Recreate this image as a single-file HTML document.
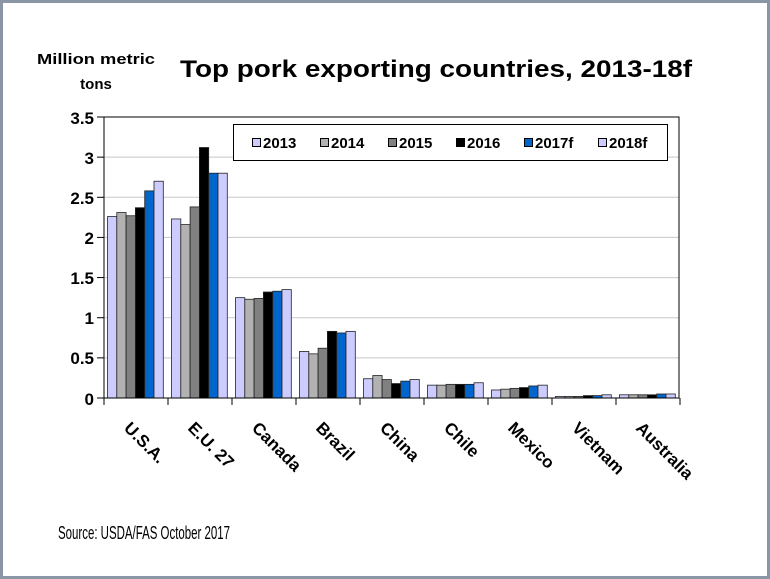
<!DOCTYPE html>
<html><head><meta charset="utf-8"><style>
html,body{margin:0;padding:0;background:#fff}
svg{display:block}
text{font-family:"Liberation Sans",sans-serif}
</style></head><body>
<svg id="s" width="770" height="579" xmlns="http://www.w3.org/2000/svg">
<rect x="0" y="0" width="770" height="579" fill="#fff"/>
<rect x="1.5" y="1.5" width="767" height="576" fill="none" stroke="#8a96a6" stroke-width="3"/>
<text x="96" y="64" font-size="15" font-weight="bold" text-anchor="middle" textLength="118" lengthAdjust="spacingAndGlyphs">Million metric</text>
<text x="96" y="89" font-size="15" font-weight="bold" text-anchor="middle">tons</text>
<text x="180" y="77" font-size="24" font-weight="bold" textLength="512" lengthAdjust="spacingAndGlyphs">Top pork exporting  countries, 2013-18f</text>
<g id="grid"></g>
<g id="bars"></g>
<rect x="104" y="117" width="575" height="281" fill="none" stroke="#000" stroke-width="1"/>
<g font-size="17" font-weight="bold" text-anchor="end">
<text x="94" y="124">3.5</text><text x="94" y="164">3</text><text x="94" y="204">2.5</text><text x="94" y="244">2</text>
<text x="94" y="284">1.5</text><text x="94" y="324">1</text><text x="94" y="364">0.5</text><text x="94" y="405">0</text>
</g>
<g font-size="17" font-weight="bold">
<text transform="translate(123,429) rotate(45)">U.S.A.</text>
<text transform="translate(187,429) rotate(45)">E.U. 27</text>
<text transform="translate(251,429) rotate(45)">Canada</text>
<text transform="translate(315,429) rotate(45)">Brazil</text>
<text transform="translate(379,429) rotate(45)">China</text>
<text transform="translate(443,429) rotate(45)">Chile</text>
<text transform="translate(507,429) rotate(45)">Mexico</text>
<text transform="translate(571,429) rotate(45)">Vietnam</text>
<text transform="translate(635,429) rotate(45)">Australia</text>
</g>
<rect x="233.5" y="124.5" width="434" height="36" fill="#fff" stroke="#000"/>
<g font-size="15" font-weight="bold">
<rect x="252.5" y="138.5" width="8" height="8" fill="#ccccff" stroke="#000"/><text x="263" y="148">2013</text>
<rect x="320.5" y="138.5" width="8" height="8" fill="#b2b2b2" stroke="#000"/><text x="331" y="148">2014</text>
<rect x="388.5" y="138.5" width="8" height="8" fill="#808080" stroke="#000"/><text x="399" y="148">2015</text>
<rect x="456.5" y="138.5" width="8" height="8" fill="#000" stroke="#000"/><text x="467" y="148">2016</text>
<rect x="524.5" y="138.5" width="8" height="8" fill="#0066cc" stroke="#000"/><text x="535" y="148">2017f</text>
<rect x="598.5" y="138.5" width="8" height="8" fill="#ccccff" stroke="#000"/><text x="609" y="148">2018f</text>
</g>
<text x="58" y="539" font-size="18" textLength="172" lengthAdjust="spacingAndGlyphs">Source: USDA/FAS October 2017</text>
</svg>
<script>
var ns="http://www.w3.org/2000/svg";
var g=document.getElementById("grid"),b=document.getElementById("bars");
function el(p,t,a){var e=document.createElementNS(ns,t);for(var k in a)e.setAttribute(k,a[k]);p.appendChild(e);}
var y0=398,k=281/3.5;
for(var i=0;i<=7;i++){var y=y0-i*0.5*k;if(i>0&&i<7)el(g,"line",{x1:104,x2:679,y1:y,y2:y,stroke:"#c8c8c8"});el(g,"line",{x1:97,x2:104,y1:y,y2:y,stroke:"#000"});}
for(var c=0;c<=9;c++){var x=104+c*64;el(g,"line",{x1:x,x2:x,y1:398,y2:405,stroke:"#000"});}
var d=[[2.26,2.31,2.27,2.37,2.58,2.70],[2.23,2.16,2.38,3.12,2.80,2.80],[1.25,1.23,1.24,1.32,1.33,1.35],[0.58,0.55,0.62,0.83,0.81,0.83],[0.24,0.28,0.23,0.18,0.21,0.23],[0.16,0.16,0.17,0.17,0.17,0.19],[0.10,0.11,0.12,0.13,0.15,0.16],[0.02,0.02,0.02,0.03,0.03,0.04],[0.04,0.04,0.04,0.04,0.05,0.05]];
var col=["#ccccff","#b2b2b2","#808080","#000","#0066cc","#ccccff"];
d.forEach(function(r,c){r.forEach(function(v,j){var x=104+c*64+3.5+j*9.3,h=v*k;el(b,"rect",{x:x,y:y0-h,width:9.3,height:h,fill:col[j],stroke:"#222","stroke-width":0.8});});});
</script>
</body></html>
